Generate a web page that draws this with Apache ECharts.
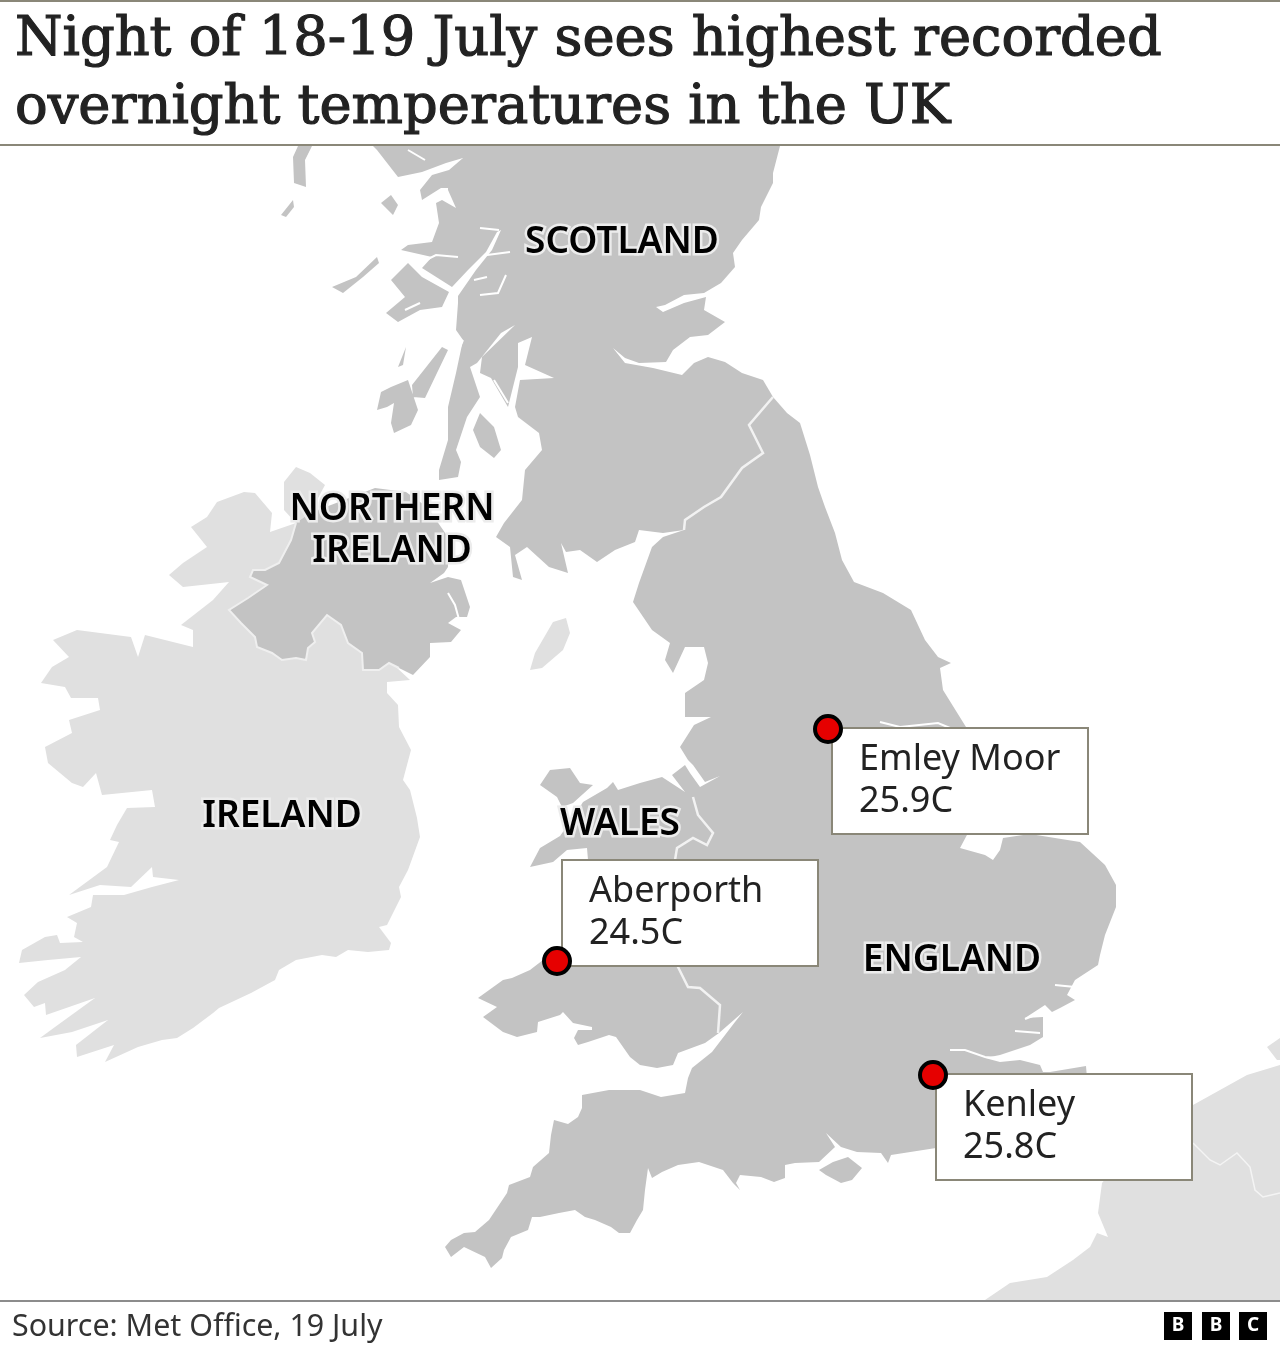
<!DOCTYPE html>
<html>
<head>
<meta charset="utf-8">
<title>Night of 18-19 July</title>
<script src="https://cdn.jsdelivr.net/npm/echarts@6/dist/echarts.min.js"></script>
<style>
  html, body { margin: 0; padding: 0; background: #fff; }
  #chart { width: 1280px; height: 1350px; }
</style>
</head>
<body>
<div id="chart"></div>
<script>
const titleText = 'Night of 18-19 July sees highest recorded\novernight temperatures in the UK'
const sourceText = 'Source: Met Office, 19 July'

const stationNames = ['Emley Moor', 'Aberporth', 'Kenley']
const stationTemps = ['25.9C', '24.5C', '25.8C']
const stationPoints = [[828, 729], [557, 961], [933, 1075]]

const countryNames = ['SCOTLAND', 'NORTHERN\nIRELAND', 'IRELAND', 'WALES', 'ENGLAND']
const countryPoints = [[622, 242], [392, 530], [282, 816], [620, 824], [952, 960]]

// coastlines
const mainland = [[780,146],[773,173],[773,183],[761,207],[759,220],[742,240],[733,253],[735,267],[721,283],[704,293],[684,295],[665,305],[656,307],[663,312],[684,303],[706,297],[704,310],[725,322],[708,335],[690,337],[673,350],[666,362],[639,363],[625,358],[613,348],[625,363],[653,368],[682,375],[694,363],[708,357],[725,362],[742,373],[763,380],[773,397],[787,413],[800,423],[810,455],[818,487],[825,507],[835,533],[842,560],[854,582],[883,593],[911,610],[925,640],[938,657],[951,663],[940,668],[943,690],[966,727],[985,780],[968,833],[960,848],[985,855],[993,860],[1000,850],[1003,838],[1030,834],[1080,842],[1105,865],[1116,885],[1116,907],[1105,935],[1100,955],[1098,965],[1075,980],[1067,995],[1075,1000],[1060,1008],[1052,1012],[1045,1005],[1025,1018],[1043,1017],[1043,1030],[1043,1037],[1030,1045],[1000,1055],[985,1058],[1000,1062],[1020,1060],[1040,1065],[1043,1072],[1050,1072],[1086,1066],[1087,1078],[1090,1100],[1000,1147],[936,1148],[891,1155],[888,1163],[881,1153],[857,1152],[841,1147],[826,1133],[835,1147],[819,1162],[795,1163],[785,1165],[785,1178],[774,1182],[761,1177],[740,1175],[736,1183],[740,1190],[733,1183],[723,1170],[699,1162],[678,1165],[662,1172],[652,1178],[648,1168],[645,1190],[643,1210],[637,1220],[630,1233],[619,1233],[611,1227],[595,1220],[585,1217],[575,1210],[559,1213],[540,1217],[532,1217],[528,1230],[511,1237],[504,1250],[502,1258],[491,1268],[485,1257],[464,1247],[451,1257],[445,1247],[451,1240],[464,1233],[475,1232],[489,1220],[497,1208],[507,1193],[509,1185],[530,1177],[533,1167],[549,1153],[551,1135],[554,1120],[568,1124],[578,1117],[582,1108],[582,1095],[609,1090],[640,1090],[661,1097],[685,1093],[688,1078],[692,1068],[712,1052],[735,1022],[743,1012],[719,1033],[705,1043],[678,1053],[673,1065],[657,1068],[640,1065],[630,1057],[616,1037],[609,1035],[588,1042],[578,1045],[574,1038],[578,1030],[592,1030],[592,1027],[573,1023],[563,1012],[560,1015],[538,1022],[537,1032],[517,1037],[503,1032],[483,1017],[497,1007],[478,998],[503,980],[512,978],[530,970],[543,960],[563,950],[590,880],[588,860],[587,848],[567,850],[553,862],[530,867],[540,848],[560,836],[575,815],[583,802],[607,788],[613,782],[618,790],[640,783],[662,777],[685,792],[672,775],[685,765],[690,773],[700,787],[720,776],[705,782],[693,765],[688,760],[680,747],[694,725],[711,717],[685,717],[685,693],[704,680],[708,663],[704,647],[685,647],[673,673],[665,660],[670,643],[652,630],[633,602],[639,583],[652,547],[663,537],[684,530],[663,533],[639,530],[635,542],[615,550],[597,562],[580,550],[566,552],[561,543],[568,573],[549,567],[527,547],[515,555],[522,580],[513,577],[510,547],[496,537],[504,523],[522,500],[525,470],[542,450],[539,433],[518,417],[515,407],[520,380],[554,378],[525,365],[532,337],[518,343],[518,367],[508,407],[491,378],[480,373],[482,357],[515,325],[501,333],[477,363],[470,367],[480,397],[467,417],[456,450],[461,462],[458,477],[439,480],[439,470],[448,440],[448,407],[456,373],[463,340],[456,330],[458,303],[458,296],[476,270],[492,250],[501,230],[497,232],[486,252],[468,270],[452,287],[422,268],[432,257],[401,250],[408,245],[432,242],[439,223],[436,203],[442,200],[456,208],[448,190],[448,177],[467,188],[441,188],[422,200],[420,190],[432,175],[449,170],[463,158],[446,163],[422,172],[398,177],[377,150],[373,146]]
const anglesey = [[540,785],[550,770],[570,768],[580,783],[593,785],[573,803],[562,807],[557,797]]
const wight = [[819,1170],[833,1162],[848,1157],[862,1168],[852,1180],[841,1183],[826,1175]]
const arran = [[480,413],[494,427],[501,450],[494,458],[480,447],[473,430]]
const islay = [[377,410],[381,392],[391,387],[408,380],[418,410],[411,425],[394,433],[391,423],[394,403],[387,407]]
const jura = [[412,385],[442,347],[448,350],[425,398],[413,397]]
const mull = [[386,313],[405,297],[391,280],[408,263],[422,277],[449,292],[442,307],[420,310],[398,322]]
const colonsay = [[398,367],[406,347],[403,365]]
const tiree = [[332,287],[356,277],[377,257],[379,263],[363,277],[343,293]]
const rum = [[381,203],[391,195],[398,205],[393,215]]
const uist = [[293,157],[298,146],[312,146],[305,160],[306,187],[294,183]]
const barra = [[281,215],[293,200],[294,207],[286,217]]
const ireland = [[296,523],[284,510],[284,482],[296,467],[310,473],[325,485],[310,513],[296,523],[270,532],[272,513],[255,493],[244,492],[217,502],[207,517],[191,527],[207,547],[183,563],[169,575],[183,587],[220,583],[229,582],[213,600],[181,625],[193,630],[193,647],[165,640],[145,635],[138,657],[131,637],[77,630],[53,640],[69,657],[52,667],[41,683],[65,687],[71,698],[98,698],[100,710],[69,720],[72,733],[45,747],[48,763],[72,783],[83,787],[96,773],[102,795],[152,790],[155,807],[127,808],[117,825],[110,840],[119,842],[107,867],[69,895],[100,885],[131,887],[152,867],[153,877],[179,880],[152,887],[124,895],[93,895],[91,907],[67,917],[77,923],[74,937],[83,942],[60,943],[57,935],[45,937],[22,950],[19,963],[48,960],[81,957],[65,970],[38,982],[24,995],[34,1007],[45,1003],[46,1015],[95,998],[55,1027],[40,1038],[72,1032],[108,1020],[76,1045],[77,1057],[114,1045],[105,1062],[138,1047],[162,1040],[177,1038],[193,1028],[213,1013],[219,1008],[251,993],[275,980],[279,970],[296,960],[322,955],[336,957],[348,950],[368,952],[389,950],[391,943],[379,927],[387,925],[401,897],[399,887],[408,870],[420,837],[417,818],[410,790],[403,780],[411,750],[399,727],[398,705],[387,693],[387,682],[410,680],[396,667],[420,640],[400,560],[340,510]]
const northernIreland = [[296,523],[291,540],[279,563],[265,570],[253,570],[250,577],[267,585],[248,598],[229,610],[241,623],[255,637],[257,647],[272,653],[282,660],[296,658],[306,660],[308,648],[315,642],[312,633],[327,615],[341,625],[348,643],[362,653],[363,670],[379,670],[389,663],[399,668],[413,675],[430,657],[430,643],[451,642],[461,630],[448,623],[456,617],[467,617],[470,607],[461,580],[448,577],[430,583],[444,573],[448,567],[448,537],[427,507],[406,492],[375,488],[344,500],[310,513]]
const isleOfMan = [[566,618],[553,622],[535,653],[530,670],[542,668],[563,650],[570,633]]
const continent = [[1280,1065],[1247,1075],[1193,1105],[1150,1125],[1102,1183],[1098,1213],[1108,1237],[1097,1233],[1090,1247],[1073,1260],[1047,1277],[1010,1283],[985,1300],[1280,1300]]
const zeeland = [[1267,1047],[1280,1038],[1280,1060],[1277,1060]]

// land borders and thin water, drawn as lines over the land
const scotlandBorder = [[773,397],[749,425],[763,453],[742,468],[721,497],[704,507],[685,520],[684,530]]
const walesBorder = [[693,797],[698,815],[713,833],[707,845],[693,838],[677,848],[675,860],[675,920],[678,967],[688,987],[700,988],[720,1005],[718,1033]]
const irishBorder = [[296,523],[291,540],[279,563],[265,570],[253,570],[250,577],[267,585],[248,598],[229,610],[241,623],[255,637],[257,647],[272,653],[282,660],[296,658],[306,660],[308,648],[315,642],[312,633],[327,615],[341,625],[348,643],[362,653],[363,670],[379,670],[389,663],[399,668]]
const belgiumBorder = [[1193,1143],[1210,1160],[1220,1165],[1237,1153],[1250,1167],[1255,1190],[1263,1197],[1280,1193]]
const waterLines = [
  [[880,722],[900,727],[938,723],[955,730]],
  [[950,1050],[965,1050],[985,1057],[998,1058]],
  [[1055,985],[1075,987]],
  [[1025,1019],[1043,1012]],
  [[1015,1031],[1040,1033]],
  [[448,593],[455,605],[460,623]],
  [[480,295],[498,293],[506,275]],
  [[487,255],[510,252]],
  [[422,262],[436,255],[458,257]],
  [[474,280],[487,277]],
  [[494,380],[508,403]],
  [[449,373],[463,340]],
  [[405,310],[420,303]],
  [[480,228],[499,230]],
  [[408,150],[425,160]]
]

const toFeature = (name, rings) => ({
  type: 'Feature',
  properties: { name },
  geometry: { type: 'MultiPolygon', coordinates: rings.map(r => [r.concat([r[0]])]) }
})

echarts.registerMap('isles', {
  type: 'FeatureCollection',
  features: [
    toFeature('Ireland', [ireland]),
    toFeature('Europe', [continent, zeeland, isleOfMan]),
    toFeature('Northern Ireland', [northernIreland]),
    toFeature('Great Britain', [mainland, anglesey, wight, arran, islay, jura, mull, colonsay, tiree, rum, uist, barra])
  ]
})

const bodyFont = '"Noto Sans"'
const lightLand = '#e0e0e0'
const darkLand = '#c3c3c3'
const ruleColor = '#8a8778'

// where each callout box sits against its marker
const calloutShift = [[5, 0], [6, -100], [4, 0]]

const borderSeries = (lines, color, width) => ({
  type: 'lines',
  coordinateSystem: 'geo',
  polyline: true,
  silent: true,
  z: 2,
  lineStyle: { color, width, opacity: 1 },
  data: lines.map(coords => ({ coords }))
})

const logoBlock = (x, letter) => ({
  type: 'group',
  x,
  y: 1312,
  children: [
    { type: 'rect', shape: { width: 28, height: 28 }, style: { fill: '#000' } },
    { type: 'text', x: 14, y: 14, style: { text: letter, fill: '#fff', font: 'bold 19px ' + bodyFont, align: 'center', verticalAlign: 'middle' } }
  ]
})

const option = {
  animation: false,
  backgroundColor: '#fff',
  title: {
    text: titleText,
    left: 15,
    top: 7,
    padding: 0,
    textStyle: {
      fontFamily: '"DejaVu Serif"',
      fontSize: 54.3,
      fontWeight: 'normal',
      color: '#222222',
      lineHeight: 68,
      textBorderColor: '#222222',
      textBorderWidth: 1.2
    }
  },
  geo: {
    map: 'isles',
    silent: true,
    roam: false,
    projection: { project: p => p, unproject: p => p },
    boundingCoords: [[0, 0], [1280, 1350]],
    left: 0,
    top: 0,
    width: 1280,
    height: 1350,
    label: { show: false },
    itemStyle: { areaColor: darkLand, borderWidth: 0 },
    emphasis: { disabled: true },
    regions: [
      { name: 'Ireland', itemStyle: { areaColor: lightLand, borderWidth: 0 } },
      { name: 'Europe', itemStyle: { areaColor: lightLand, borderWidth: 0 } },
      { name: 'Northern Ireland', itemStyle: { areaColor: darkLand, borderWidth: 0 } }
    ]
  },
  series: [
    borderSeries([scotlandBorder, walesBorder], '#f2f2f2', 2.5),
    borderSeries([irishBorder], '#efefef', 2),
    borderSeries([belgiumBorder], '#f4f4f4', 1.5),
    borderSeries(waterLines, '#ffffff', 2),
    {
      type: 'scatter',
      coordinateSystem: 'geo',
      silent: true,
      z: 3,
      symbolSize: 0,
      itemStyle: { opacity: 1 },
      label: {
        show: true,
        position: 'inside',
        align: 'center',
        verticalAlign: 'middle',
        formatter: p => p.name,
        fontFamily: bodyFont,
        fontSize: 37,
        fontWeight: 600,
        lineHeight: 42,
        color: '#000',
        textBorderColor: '#ececec',
        textBorderWidth: 5
      },
      data: countryNames.map((name, i) => ({ name, value: countryPoints[i] }))
    },
    {
      type: 'scatter',
      coordinateSystem: 'geo',
      silent: true,
      z: 4,
      symbolSize: 0,
      itemStyle: { opacity: 1 },
      data: stationNames.map((name, i) => ({
        name,
        value: stationPoints[i],
        label: {
          show: true,
          position: calloutShift[i],
          formatter: name + '\n' + stationTemps[i],
          fontFamily: bodyFont,
          fontSize: 36,
          lineHeight: 42,
          color: '#222222',
          backgroundColor: '#fff',
          borderColor: ruleColor,
          borderWidth: 2,
          padding: [10, 0, 10, 26],
          width: 228,
          height: 84
        }
      }))
    },
    {
      type: 'scatter',
      coordinateSystem: 'geo',
      silent: true,
      z: 5,
      symbol: 'circle',
      symbolSize: 26,
      itemStyle: { color: '#e60000', borderColor: '#000', borderWidth: 4, opacity: 1 },
      data: stationNames.map((name, i) => ({ name, value: stationPoints[i] }))
    }
  ],
  graphic: [
    { type: 'rect', silent: true, z: 10, shape: { x: 0, y: 0, width: 1280, height: 2 }, style: { fill: ruleColor } },
    { type: 'rect', silent: true, z: 10, shape: { x: 0, y: 144, width: 1280, height: 2 }, style: { fill: ruleColor } },
    { type: 'rect', silent: true, z: 10, shape: { x: 0, y: 1300, width: 1280, height: 2 }, style: { fill: '#8c8c8c' } },
    { type: 'text', silent: true, z: 10, x: 12, y: 1327, style: { text: sourceText, fill: '#333333', font: '30.4px ' + bodyFont, verticalAlign: 'middle' } },
    logoBlock(1164, 'B'),
    logoBlock(1202, 'B'),
    logoBlock(1239, 'C')
  ]
}

const myChart = echarts.init(document.getElementById('chart'))
myChart.setOption(option)
</script>
</body>
</html>
